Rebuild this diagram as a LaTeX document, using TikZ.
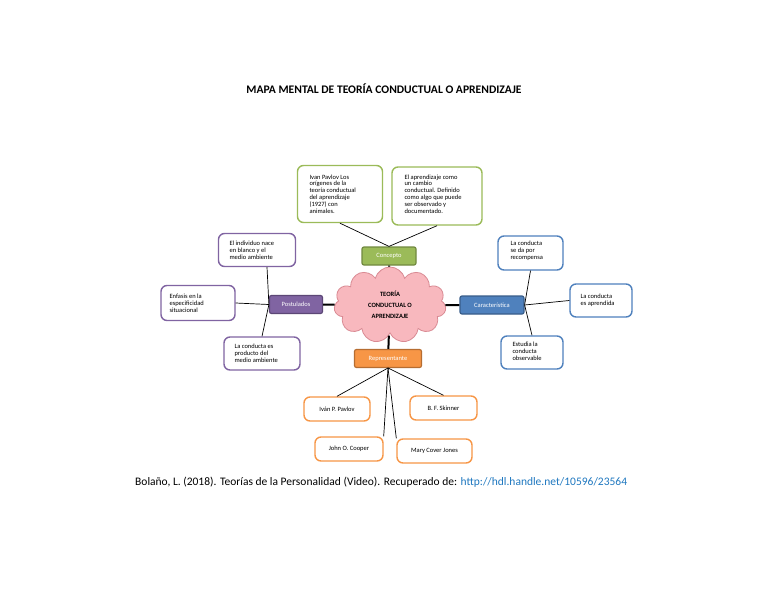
\documentclass[tikz,border=0pt]{standalone}
\usepackage{fontspec}
\setmainfont{Carlito}
\usetikzlibrary{shapes.symbols}
\definecolor{gfill}{HTML}{9BBB59}\definecolor{gdark}{HTML}{71893F}
\definecolor{pfill}{HTML}{8064A2}\definecolor{pdark}{HTML}{5C4776}
\definecolor{bfill}{HTML}{4F81BD}\definecolor{bdark}{HTML}{385D8A}
\definecolor{ofill}{HTML}{F79646}\definecolor{odark}{HTML}{B66D31}
\definecolor{cloudc}{HTML}{F8B8BE}\definecolor{cloudd}{HTML}{D98A93}
\definecolor{linkc}{HTML}{1F78C0}
\begin{document}
\begin{tikzpicture}[x=1pt,y=-1pt,
 hub/.style={draw=#1, line width=1.2pt, rounded corners=2pt, text=white, font=\fontsize{6.5}{7}\selectfont, minimum height=18pt, inner sep=1pt},
 lf/.style={draw=#1, fill=white, line width=1.4pt, rounded corners=6pt, font=\fontsize{6.5}{6.6}\selectfont, align=left, inner sep=0pt},
 tx/.style={font=\fontsize{6.5}{6.8}\selectfont, align=left},
 cn/.style={line width=0.7pt},
 thick1/.style={line width=2pt}]
\useasboundingbox (0,0) rectangle (768,594);
\fill[white] (0,0) rectangle (768,594);
\node[font=\bfseries\fontsize{11.6}{13}\selectfont] (title) at (384,89) {MAPA MENTAL DE TEORÍA CONDUCTUAL O APRENDIZAJE};
% cloud
\node[cloud, cloud puffs=11, aspect=1.6, draw=cloudd, fill=cloudc, line width=0.8pt, minimum width=112pt, minimum height=76pt, align=center, font=\bfseries\fontsize{6.5}{11}\selectfont] (c) at (390,305) {TEORÍA\\CONDUCTUAL O\\APRENDIZAJE};
% hubs
\node[hub=gdark, fill=gfill, minimum width=54pt] (con) at (389,256) {Concepto};
\node[hub=pdark, fill=pfill, minimum width=53pt] (pos) at (296,304.5) {Postulados};
\node[hub=bdark, fill=bfill, minimum width=64pt] (car) at (492,305) {Característica};
\node[hub=odark, fill=ofill, minimum width=67pt] (rep) at (388,358.5) {Representante};
\draw[thick1] (con) -- (c); \draw[thick1] (pos) -- (c);
\draw[thick1] (car) -- (c); \draw[thick1] (rep) -- (c);
% green leaves
\node[lf=gfill, minimum width=85pt, minimum height=57pt] (g1) at (340,194) {};
\node[tx, anchor=north west] at (306,171) {Ivan Pavlov Los\\orígenes de la\\teoría conductual\\del aprendizaje\\(1927) con\\animales.};
\node[lf=gfill, minimum width=90pt, minimum height=58pt] (g2) at (437,196) {};
\node[tx, anchor=north west] at (401,171) {El aprendizaje como\\un cambio\\conductual. Definido\\como algo que puede\\ser observado y\\documentado.};
\draw[cn] (g1.south) -- (con.north); \draw[cn] (g2.south) -- (con.north);
% purple leaves
\node[lf=pfill, minimum width=77pt, minimum height=33pt] (p1) at (257,250) {};
\node[tx, anchor=west] at (226,250) {El individuo nace\\en blanco y el\\medio ambiente};
\node[lf=pfill, minimum width=74pt, minimum height=35pt] (p2) at (198,303) {};
\node[tx, anchor=west] at (166,303) {Enfasis en la\\especificidad\\situacional};
\node[lf=pfill, minimum width=76pt, minimum height=33pt] (p3) at (262,353.5) {};
\node[tx, anchor=west] at (231,353.5) {La conducta es\\producto del\\medio ambiente};
\draw[cn] (p1.south) ++(10,0) -- (pos.west);
\draw[cn] (p2.east) -- (pos.west);
\draw[cn] (p3.north) -- (pos.west);
% blue leaves
\node[lf=bfill, minimum width=65pt, minimum height=34pt] (b1) at (530.5,253) {};
\node[tx, anchor=west] at (507,251) {La conducta\\se da por\\recompensa};
\node[lf=bfill, minimum width=62pt, minimum height=33pt] (b2) at (601,300.5) {};
\node[tx, anchor=west] at (577,300) {La conducta\\es aprendida};
\node[lf=bfill, minimum width=62pt, minimum height=33pt] (b3) at (532,352.5) {};
\node[tx, anchor=west] at (509,351) {Estudia la\\conducta\\observable};
\draw[cn] (car.east) -- (b1.south);
\draw[cn] (car.east) -- (b2.west);
\draw[cn] (car.east) -- (b3.north);
% orange leaves
\node[lf=ofill, minimum width=66pt, minimum height=24pt] (o1) at (337,409) {Iván P. Pavlov};
\node[lf=ofill, minimum width=67pt, minimum height=24pt] (o2) at (443.5,408) {B. F. Skinner};
\node[lf=ofill, minimum width=68pt, minimum height=24pt] (o3) at (349,449) {John O. Cooper};
\node[lf=ofill, minimum width=75pt, minimum height=24pt] (o4) at (434.5,451) {Mary Cover Jones};
\coordinate (rb) at (388,368);
\draw[cn] (rb) -- (o1.north); \draw[cn] (rb) -- (o2.north);
\draw[cn] (rb) -- (o3.north east); \draw[cn] (rb) -- (o4.north west);
% citation
\node[font=\fontsize{11.5}{13}\selectfont, anchor=west, inner sep=0pt] (cite) at (135,482) {Bolaño, L. (2018). Teorías de la Personalidad (Video). Recuperado de: \textcolor{linkc}{http://hdl.handle.net/10596/23564}};
\end{tikzpicture}
\end{document}
